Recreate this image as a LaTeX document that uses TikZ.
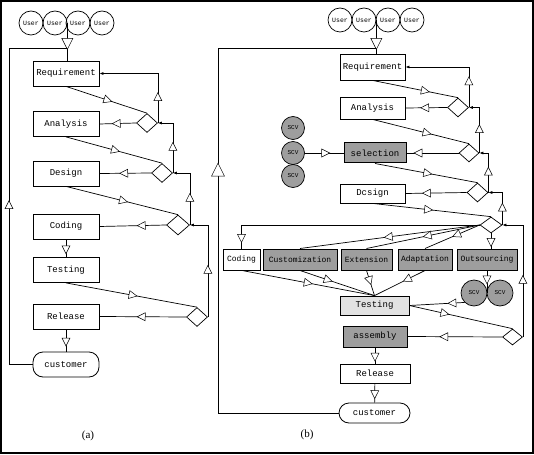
\documentclass[tikz,border=0pt]{standalone}
\usepackage{fontspec}
\setmainfont{Liberation Serif}
\setmonofont{Liberation Mono}
\usetikzlibrary{arrows.meta,shapes.geometric}

\definecolor{boxgray}{RGB}{158,158,158}
\definecolor{testgray}{RGB}{226,226,226}

\tikzset{
  box/.style={draw, rectangle, inner sep=0pt, line width=0.8pt, fill=white,
    font=\ttfamily\fontsize{9}{10}\selectfont},
  abox/.style={box, minimum width=66pt, minimum height=25pt},
  sbox/.style={box, minimum height=21pt, font=\ttfamily\fontsize{8}{9}\selectfont},
  gbox/.style={sbox, fill=boxgray, line width=1pt},
  cust/.style={box, rounded corners=10pt},
  user/.style={draw, circle, minimum size=24pt, inner sep=0pt,
    font=\ttfamily\fontsize{6.5}{7}\selectfont},
  scv/.style={draw, circle, fill=boxgray, minimum size=23pt, inner sep=0pt,
    font=\ttfamily\fontsize{6}{7}\selectfont},
  dia/.style={draw, diamond, inner sep=0pt, minimum width=21pt, minimum height=19pt, fill=white},
  tri/.style={draw, fill=white, isosceles triangle, isosceles triangle stretches,
    inner sep=0pt, minimum width=8pt, minimum height=8pt, sloped, allow upside down,
    line width=0.5pt},
  bigtri/.style={tri, minimum width=11pt, minimum height=11pt},
  fb/.style={-{Latex[length=4pt,width=3pt]}},
  caption/.style={font=\fontsize{11}{12}\selectfont},
}

\begin{document}
\begin{tikzpicture}[x=1pt, y=-1pt, line width=0.7pt]
  \useasboundingbox (0,0) rectangle (534,454);
  \fill[white] (0,0) rectangle (534,454);
  \draw[line width=1.6pt] (0.8,0.8) rectangle (533.2,453.2);

  % ---- (a) ----
  \node[user] (ua1) at (31,23)  {User};
  \node[user] (ua2) at (55,23)  {User};
  \node[user] (ua3) at (78,23)  {User};
  \node[user] (ua4) at (102,23) {User};

  \node[abox] (reqA) at (66,73.5)  {Requirement};
  \node[abox] (anaA) at (66,124)   {Analysis};
  \node[abox] (desA) at (66,173.5) {Design};
  \node[abox] (codA) at (66,226.5) {Coding};
  \node[abox] (tesA) at (66,270)   {Testing};
  \node[abox] (relA) at (66,316.5) {Release};
  \node[abox, cust] (cusA) at (66,364.5) {customer};

  \node[dia] (dA1) at (147,123) {};
  \node[dia] (dA2) at (162,173) {};
  \node[dia, minimum width=23pt, minimum height=20pt] (dA3) at (178,225) {};
  \node[dia] (dA4) at (197,317) {};

  \draw (ua2.east) -- (ua2.east |- reqA.north) node[bigtri, pos=0.5] {};
  \coordinate (la) at (9,48);
  \draw (cusA.west) -| (la) node[tri, pos=0.75] {} -- (la -| ua2.east);

  \foreach \u\v\p in {reqA/dA1/0.5, anaA/dA2/0.5, desA/dA3/0.5, tesA/dA4/0.5}
  {  \draw (\u.south) -- (\v.north) node[tri, pos=\p] {};
  }
  \foreach \u\v\p in {dA1/anaA/0.5, dA2/desA/0.5, dA3/codA/0.35, dA4/relA/0.5}
  {  \draw (\u.west) -- (\v.east) node[tri, pos=\p] {};
  }
  \foreach \u\v in {dA1/reqA, dA2/dA1, dA3/dA2, dA4/dA3}  % feedback
  {  \draw[fb] (\u.east) |- (\v.east) node[tri, pos=0.25] {};
  }
  \foreach \u\v in {codA/tesA, relA/cusA}
  {  \draw (\u) -- (\v) node[tri, pos=0.5] {};
  }
  \node[caption] (capA) at (88,436) {(a)};

  % ---- (b) ----
  \node[user] (ub1) at (340,20) {User};
  \node[user] (ub2) at (364,20) {User};
  \node[user] (ub3) at (388,20) {User};
  \node[user] (ub4) at (412,20) {User};

  \node[box, minimum width=65pt, minimum height=26pt] (reqB) at (372.5,67)    {Requirement};
  \node[box, minimum width=65pt, minimum height=22pt] (anaB) at (372.5,108)   {Analysis};
  \node[box, fill=boxgray, line width=1pt, minimum width=62pt, minimum height=20pt] (selB) at (375,153) {selection};
  \node[box, minimum width=65pt, minimum height=19pt] (desB) at (372.5,193.5) {Dcsign};

  \node[scv] (scv1) at (293,128) {SCV};
  \node[scv] (scv2) at (293,153) {SCV};
  \node[scv] (scv3) at (293,176) {SCV};

  \node[sbox, minimum width=37pt] (codB) at (241.5,259.5) {Coding};
  \node[gbox, minimum width=74pt] (cstB) at (300,259.5)   {Customization};
  \node[gbox, minimum width=51pt] (extB) at (366.5,259.5) {Extension};
  \node[gbox, minimum width=54pt] (adpB) at (425,259.5)   {Adaptation};
  \node[gbox, minimum width=60pt] (outB) at (487,259.5)   {Outsourcing};

  \node[scv, minimum size=26pt] (scv4) at (474,293) {SCV};
  \node[scv, minimum size=26pt] (scv5) at (500,293) {SCV};

  \node[box, fill=testgray, minimum width=69pt, minimum height=19pt] (tesB) at (374.5,305.5) {Testing};
  \node[box, fill=boxgray, line width=1pt, minimum width=64pt, minimum height=21pt] (asmB) at (375,336.5) {assembly};
  \node[box, minimum width=70pt, minimum height=19pt] (relB) at (375,373.5) {Release};
  \node[box, cust, minimum width=71pt, minimum height=20pt] (cusB) at (374.5,413) {customer};

  \node[dia] (dB1) at (458,107.5) {};
  \node[dia, minimum width=20pt, minimum height=18pt] (dB2) at (469,153) {};
  \node[dia] (dB3) at (477.5,192.5) {};
  \node[dia, minimum width=22pt, minimum height=16pt] (dB4) at (491,225) {};
  \node[dia, minimum width=20pt, minimum height=16pt] (dB5) at (512.5,337) {};

  \draw (ub2.east) -- (ub2.east |- reqB.north) node[bigtri, pos=0.65] {};
  \coordinate (lb) at (218,48);
  \draw (cusB.west) -| (lb) node[bigtri, pos=0.83, minimum width=13pt, minimum height=13pt] {} -- (lb -| ub2.east);

  \foreach \u\v\p in {reqB/dB1/0.6, anaB/dB2/0.55, selB/dB3/0.5, desB/dB4/0.46}
  {  \draw (\u.south) -- (\v.north) node[tri, pos=\p] {};
  }
  \foreach \u\v\p in {dB1/anaB/0.5, dB2/selB/0.75, dB3/desB/0.63}
  {  \draw (\u.west) -- (\v.east) node[tri, pos=\p] {};
  }
  \draw (scv2) -- (selB) node[tri, pos=0.5] {};
  \foreach \u\v\p in {dB1/reqB/0.31, dB2/dB1/0.25, dB3/dB2/0.25, dB4/dB3/0.25, dB5/dB4/0.25}  % feedback
  {  \draw[fb] (\u.east) |- (\v.east) node[tri, pos=\p] {};
  }

  % fan out to the components
  \draw (dB4.west) -| (codB.north) node[tri, pos=0.75] {};
  \foreach \v\p in {cstB/0.5, extB/0.45, adpB/0.4}
  {  \draw (dB4.west) -- (\v.north) node[tri, pos=\p] {};
  }
  \draw (dB4.south) -- (dB4.south |- outB.north) node[tri, pos=0.5] {};
  \foreach \u\p in {codB/0.49, cstB/0.36, extB/0.35, adpB/0.33}
  {  \draw (\u.south) -- (tesB.north) node[tri, pos=\p] {};
  }
  \draw (outB.south) -- (outB.south |- scv4.east) node[tri, pos=0.35] {};
  \draw (scv4.south west) -- (tesB.east) node[tri, pos=0.2] {};
  \draw (tesB.east) -- (dB5.north) node[tri, pos=0.33] {};
  \draw (dB5.west) -- (asmB.east) node[tri, pos=0.6] {};
  \foreach \u\v in {asmB/relB, relB/cusB}
  {  \draw (\u) -- (\v) node[tri, pos=0.5] {};
  }
  \node[caption] (capB) at (307,435) {(b)};
\end{tikzpicture}
\end{document}
